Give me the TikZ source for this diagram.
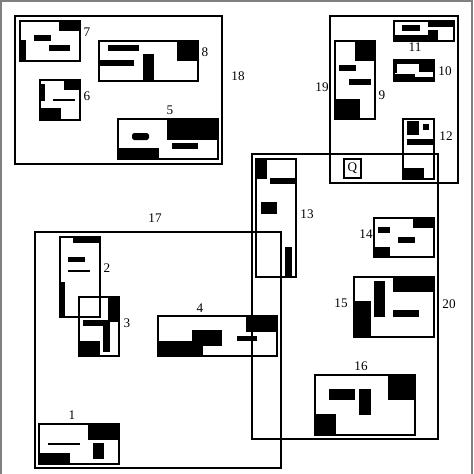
\documentclass[tikz,border=0pt]{standalone}
\usepackage{fontspec}
\setmainfont{Liberation Serif}
\usetikzlibrary{positioning}

\begin{document}
\begin{tikzpicture}[x=0.02cm, y=-0.02cm,
  room/.style={draw, line width=1.1pt},
  blk/.style={fill=black},
  rule/.style={line width=0.9pt},
  lbl/.style={font=\fontsize{7.5}{9}\selectfont, inner sep=0pt}]
  \useasboundingbox (0,0) rectangle (474,474);
  \draw[gray, line width=1.7pt] (1,474) -- (1,1) -- (472,1) -- (472,474);

  % box 7
  \fill[blk] (59,21) rectangle (80,31);
  \fill[blk] (20,40) rectangle (26,61);
  \fill[blk] (34,35) rectangle (51,41);
  \fill[blk] (49,45) rectangle (70,51);
  \draw[room] (20,21) rectangle (80,61);
  % box 8
  \fill[blk] (177,41) rectangle (198,61);
  \fill[blk] (108,45) rectangle (139,51);
  \fill[blk] (99,60) rectangle (134,66);
  \fill[blk] (143,54) rectangle (154,81);
  \draw[room] (99,41) rectangle (198,81);
  % box 6
  \fill[blk] (64,80) rectangle (80,90);
  \fill[blk] (40,84) rectangle (45,101);
  \fill[blk] (40,108) rectangle (61,120);
  \draw[rule] (53,100) -- (75,100);
  \draw[room] (40,80) rectangle (80,120);
  % box 5
  \fill[blk] (167,119) rectangle (218,140);
  \fill[blk, rounded corners=1pt] (132,133) rectangle (149,140);
  \fill[blk] (172,143) rectangle (198,149);
  \fill[blk] (118,148) rectangle (159,159);
  \draw[room] (118,119) rectangle (218,159);
  % box 18
  \draw[room] (15,16) rectangle (222,164);

  % box 11
  \fill[blk] (428,21) rectangle (454,27);
  \fill[blk] (402,25) rectangle (420,31);
  \fill[blk] (394,35) rectangle (438,41);
  \fill[blk] (428,30) rectangle (438,41);
  \draw[room] (394,21) rectangle (454,41);
  % box 10
  \fill[blk] (394,60) rectangle (397,73);
  \fill[blk] (394,60) rectangle (420,64);
  \fill[blk] (419,60) rectangle (434,72);
  \fill[blk] (394,74) rectangle (415,81);
  \fill[blk] (415,77) rectangle (434,81);
  \draw[room] (394,60) rectangle (434,81);
  % box 9
  \fill[blk] (355,41) rectangle (375,61);
  \fill[blk] (339,65) rectangle (356,71);
  \fill[blk] (349,79) rectangle (371,85);
  \fill[blk] (335,99) rectangle (360,119);
  \draw[room] (335,41) rectangle (375,119);
  % box 12
  \fill[blk] (407,121) rectangle (419,135);
  \fill[blk] (423,124) rectangle (429,130);
  \fill[blk] (407,139) rectangle (433,145);
  \fill[blk] (403,168) rectangle (424,179);
  \draw[room] (403,119) rectangle (434,179);
  % Q
  \draw[room] (344,159) rectangle (361,178);
  \node[lbl] (q) at (352.5,168.5) {Q};
  % box 19
  \draw[room] (330,16) rectangle (458,183);

  % box 13
  \fill[blk] (256,159) rectangle (267,179);
  \fill[blk] (270,178) rectangle (296,184);
  \fill[blk] (261,202) rectangle (277,214);
  \fill[blk] (285,247) rectangle (292,277);
  \draw[room] (256,159) rectangle (296,277);
  % box 14
  \fill[blk] (413,218) rectangle (434,228);
  \fill[blk] (378,227) rectangle (390,233);
  \fill[blk] (398,237) rectangle (415,243);
  \fill[blk] (374,247) rectangle (390,257);
  \draw[room] (374,218) rectangle (434,257);
  % box 15
  \fill[blk] (393,277) rectangle (434,292);
  \fill[blk] (374,281) rectangle (385,317);
  \fill[blk] (393,310) rectangle (419,317);
  \fill[blk] (354,301) rectangle (371,337);
  \draw[room] (354,277) rectangle (434,337);
  % box 16
  \fill[blk] (388,375) rectangle (415,400);
  \fill[blk] (329,389) rectangle (355,400);
  \fill[blk] (359,389) rectangle (371,415);
  \fill[blk] (315,414) rectangle (336,435);
  \draw[room] (315,375) rectangle (415,435);
  % box 20
  \draw[room] (252,154) rectangle (438,439);

  % box 2
  \fill[blk] (73,237) rectangle (100,243);
  \fill[blk] (68,257) rectangle (85,262);
  \fill[blk] (60,282) rectangle (65,317);
  \draw[rule] (68,271) -- (90,271);
  \draw[room] (60,237) rectangle (100,317);
  % box 3
  \fill[blk] (108,297) rectangle (119,322);
  \fill[blk] (83,320) rectangle (105,326);
  \fill[blk] (103,320) rectangle (110,352);
  \fill[blk] (79,341) rectangle (100,356);
  \draw[room] (79,297) rectangle (119,356);
  % box 4
  \fill[blk] (246,316) rectangle (277,332);
  \fill[blk] (237,336) rectangle (257,341);
  \fill[blk] (192,330) rectangle (222,346);
  \fill[blk] (158,341) rectangle (203,356);
  \draw[room] (158,316) rectangle (277,356);
  % box 1
  \fill[blk] (88,424) rectangle (119,440);
  \fill[blk] (93,443) rectangle (104,459);
  \fill[blk] (39,453) rectangle (70,464);
  \draw[rule] (48,444) -- (80,444);
  \draw[room] (39,424) rectangle (119,464);
  % box 17
  \draw[room] (35,232) rectangle (281,468);

  % numbers
  \node[lbl] (n1) at (72,415) {1};
  \node[lbl] (n2) at (107,268) {2};
  \node[lbl] (n3) at (127,323) {3};
  \node[lbl] (n4) at (200,308) {4};
  \node[lbl] (n5) at (170,110) {5};
  \node[lbl] (n6) at (87,96) {6};
  \node[lbl] (n7) at (87,32) {7};
  \node[lbl] (n8) at (205,52) {8};
  \node[lbl] (n9) at (382,95) {9};
  \node[lbl] (n10) at (445,71) {10};
  \node[lbl] (n11) at (415,47) {11};
  \node[lbl] (n12) at (446,136) {12};
  \node[lbl] (n13) at (307,214) {13};
  \node[lbl] (n14) at (366,234) {14};
  \node[lbl] (n15) at (341,303) {15};
  \node[lbl] (n16) at (361,366) {16};
  \node[lbl] (n17) at (155,218) {17};
  \node[lbl] (n18) at (238,76) {18};
  \node[lbl] (n19) at (322,87) {19};
  \node[lbl] (n20) at (449,304) {20};
\end{tikzpicture}
\end{document}
